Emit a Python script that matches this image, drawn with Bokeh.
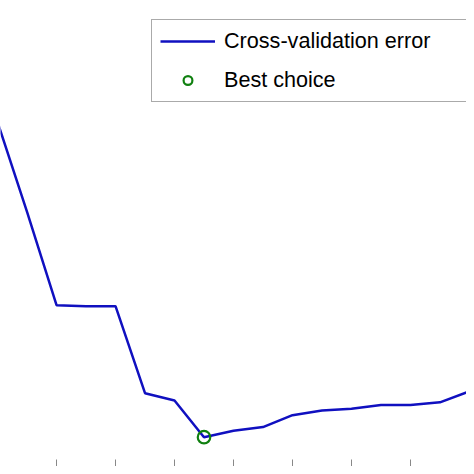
from bokeh.plotting import figure
from bokeh.models import Range1d, FixedTicker, Legend, LegendItem, CustomJSTickFormatter
from bokeh.embed import file_html
from bokeh.resources import INLINE

# data (arbitrary units)
k = list(range(0, 17))
cv_error = [0.576, 0.478, 0.376, 0.375, 0.375, 0.280, 0.272, 0.232, 0.239,
            0.243, 0.256, 0.261, 0.263, 0.267, 0.267, 0.270, 0.282]
best_k = [7]
best_err = [0.232]
x_ticks = [2, 4, 6, 8, 10, 12, 14]

p = figure(width=466, height=466, output_backend="svg", toolbar_location=None,
           x_range=Range1d(0.1, 15.9), y_range=Range1d(0.2, 0.7086),
           min_border=0, min_border_left=0, min_border_right=0,
           min_border_top=0, min_border_bottom=0)
p.outline_line_color = None
p.grid.visible = False
p.yaxis.visible = False

ax = p.xaxis[0]
ax.ticker = FixedTicker(ticks=x_ticks)
ax.formatter = CustomJSTickFormatter(code="return ''")
ax.axis_line_color = None
ax.major_tick_in = 7
ax.major_tick_out = 0
ax.major_tick_line_color = "#888888"
ax.minor_tick_line_color = None
ax.major_label_text_font_size = "1px"
ax.major_label_standoff = 0

line = p.line(k, cv_error, line_color="#1010c0", line_width=2.5)
best = p.scatter(best_k, best_err, marker="circle", size=12.5, fill_color=None,
                 line_color="#108010", line_width=2.2)

legend = Legend(items=[LegendItem(label="Cross-validation error", renderers=[line]),
                       LegendItem(label="Best choice", renderers=[best])],
                location=(151, 364), orientation="vertical",
                padding=8, spacing=13, glyph_width=55, glyph_height=22,
                label_standoff=9, label_width=237, label_height=20,
                label_text_font="Liberation Sans", label_text_font_size="21.6px",
                label_text_color="black",
                border_line_color="#555555", border_line_width=1,
                background_fill_color="white", background_fill_alpha=1)
p.add_layout(legend)

open("out.html", "w").write(file_html(p, INLINE))
